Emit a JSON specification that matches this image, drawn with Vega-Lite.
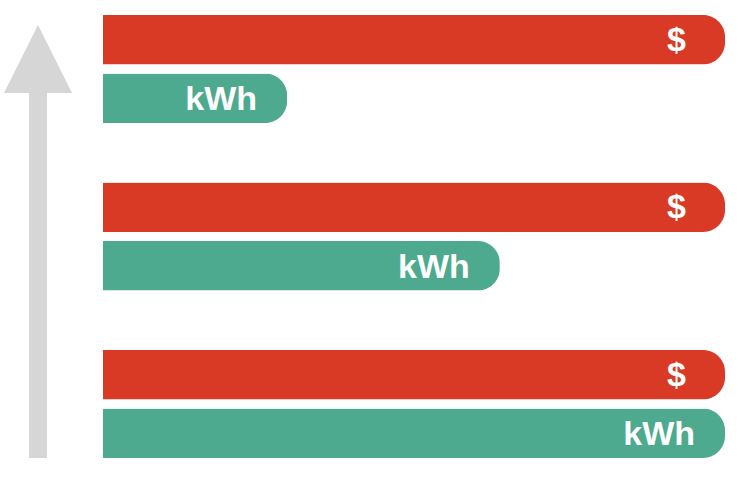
{
  "$schema": "https://vega.github.io/schema/vega-lite/v6.json",
  "width": 738,
  "height": 443,
  "autosize": "none",
  "padding": {"top": 15, "bottom": 32, "left": 0, "right": 0},
  "background": "white",
  "config": {"view": {"stroke": null}},
  "datasets": {
    "arrow": [
      {"part": "shaft", "pos": -10.45, "from": 0, "to": 0.83, "head": 0.9007}
    ],
    "bars": [
      {"group": "1", "metric": "$", "value": 100},
      {"group": "1", "metric": "kWh", "value": 29.6},
      {"group": "2", "metric": "$", "value": 100},
      {"group": "2", "metric": "kWh", "value": 63.8},
      {"group": "3", "metric": "$", "value": 100},
      {"group": "3", "metric": "kWh", "value": 100}
    ]
  },
  "layer": [
    {
      "data": {"name": "bars"},
      "mark": {"type": "bar", "cornerRadiusEnd": 22},
      "encoding": {
        "x": {"field": "value", "type": "quantitative", "scale": {"domain": [-16.56, 102.09], "nice": false, "zero": false}, "axis": null},
        "y": {"field": "group", "type": "nominal", "scale": {"domain": ["1", "2", "3"], "paddingInner": 0.355, "paddingOuter": 0}, "axis": null},
        "yOffset": {"field": "metric", "type": "nominal", "scale": {"domain": ["$", "kWh"], "paddingInner": 0.154, "paddingOuter": 0}},
        "color": {"field": "metric", "type": "nominal", "scale": {"domain": ["$", "kWh"], "range": ["#d93a26", "#4daa8e"]}, "legend": null}
      }
    },
    {
      "data": {"name": "bars"},
      "transform": [{"filter": "datum.metric === '$'"}],
      "mark": {"type": "text", "align": "right", "baseline": "middle", "dx": -39, "dy": 1, "font": "Liberation Sans", "fontWeight": "bold", "fontSize": 34, "color": "white"},
      "encoding": {
        "x": {"field": "value", "type": "quantitative"},
        "y": {"field": "group", "type": "nominal", "scale": {"domain": ["1", "2", "3"], "paddingInner": 0.355, "paddingOuter": 0}, "axis": null},
        "yOffset": {"field": "metric", "type": "nominal", "scale": {"domain": ["$", "kWh"], "paddingInner": 0.154, "paddingOuter": 0}},
        "text": {"field": "metric"}
      }
    },
    {
      "data": {"name": "bars"},
      "transform": [{"filter": "datum.metric === 'kWh'"}],
      "mark": {"type": "text", "align": "right", "baseline": "middle", "dx": -30, "dy": 2, "font": "Liberation Sans", "fontWeight": "bold", "fontSize": 34, "color": "white"},
      "encoding": {
        "x": {"field": "value", "type": "quantitative"},
        "y": {"field": "group", "type": "nominal", "scale": {"domain": ["1", "2", "3"], "paddingInner": 0.355, "paddingOuter": 0}, "axis": null},
        "yOffset": {"field": "metric", "type": "nominal", "scale": {"domain": ["$", "kWh"], "paddingInner": 0.154, "paddingOuter": 0}},
        "text": {"field": "metric"}
      }
    },
    {
      "data": {"name": "arrow"},
      "mark": {"type": "rule", "strokeWidth": 18, "strokeCap": "butt", "color": "#d6d6d6"},
      "encoding": {
        "x": {"field": "pos", "type": "quantitative"},
        "y": {"field": "from", "type": "quantitative", "scale": {"domain": [0, 1], "nice": false, "zero": false}, "axis": null},
        "y2": {"field": "to"}
      }
    },
    {
      "data": {"name": "arrow"},
      "mark": {"type": "point", "shape": "M-1,1L0,-1L1,1Z", "size": 4624, "filled": true, "opacity": 1, "color": "#d6d6d6"},
      "encoding": {
        "x": {"field": "pos", "type": "quantitative"},
        "y": {"field": "head", "type": "quantitative", "scale": {"domain": [0, 1], "nice": false, "zero": false}, "axis": null}
      }
    }
  ],
  "resolve": {"scale": {"y": "independent"}}
}
